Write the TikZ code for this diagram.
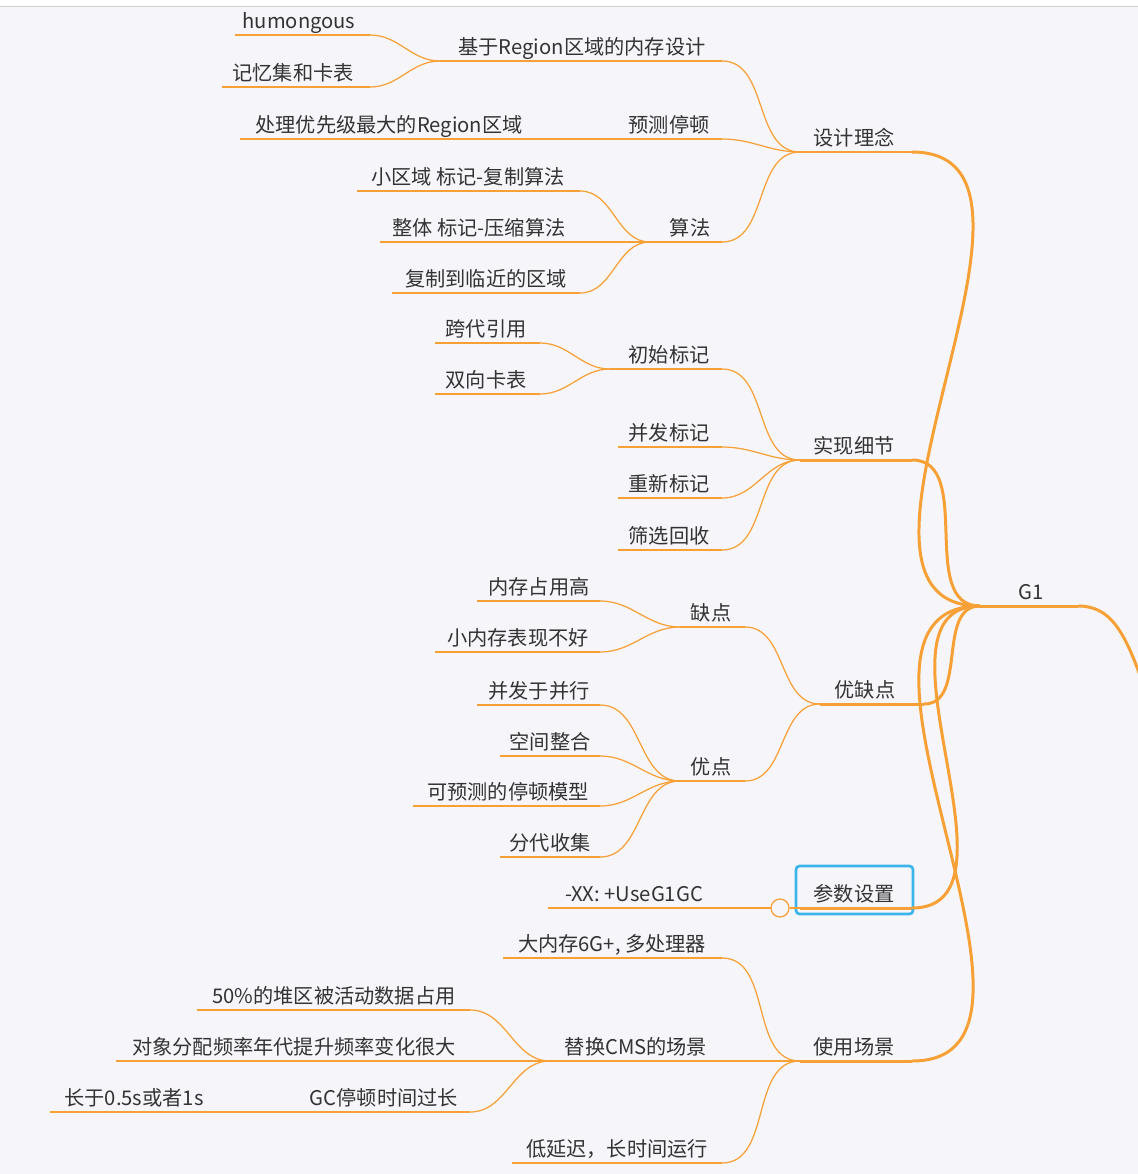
\documentclass[tikz,border=0pt]{standalone}
\usepackage{fontspec}
\setmainfont{Noto Sans CJK SC}
\definecolor{mapline}{HTML}{F7A035}
\definecolor{maptext}{HTML}{333333}
\definecolor{mapbg}{HTML}{F5F5FA}
\definecolor{selbox}{HTML}{3BB4EA}
\tikzset{
  lbl/.style={text=maptext, font=\fontsize{11.5}{14}\selectfont, inner sep=0pt, anchor=base},
  thin line/.style={mapline, line width=0.7pt},
  thick line/.style={mapline, line width=1.7pt},
}
% name, left x, right x, underline y, text x, text
\newcommand{\mmitem}[7][thin line]{%
  \coordinate (#2L) at (#3,#5);
  \coordinate (#2R) at (#4,#5);
  \node[lbl] (#2) at (#6,#5-7) {#7};
  \draw[#1] (#2L) -- (#2R);
}
\begin{document}
\begin{tikzpicture}[x=0.02cm, y=-0.02cm]
    \useasboundingbox (0,0) rectangle (1138,1174);
    \fill[mapbg] (0,6) rectangle (1138,1174);
    \draw[gray!40] (0,6) -- (1138,6);

    % root and main branches
    \mmitem[thick line]{gone}{980}{1078}{606}{1031}{G1}
    \draw[thick line] (goneR) .. controls (1110,606) and (1125,630) .. (1145,690);

    \mmitem[thick line]{design}{800}{912}{152}{854}{设计理念}
    \mmitem[thick line]{impl}{800}{912}{460}{854}{实现细节}
    \mmitem[thick line]{proscons}{820}{924}{704}{865}{优缺点}
    \mmitem[thick line]{params}{800}{912}{908}{854}{参数设置}
    \mmitem[thick line]{usage}{800}{912}{1061}{854}{使用场景}
    \draw[selbox, line width=1.5pt, rounded corners=2pt] (796,866) rectangle (913,914);
    \foreach \b in {design,impl,proscons,params,usage}
      \draw[thick line] (\b R) to[out=0, in=180] (goneL);

    % 设计理念
    \mmitem{region}{440}{722}{61}{582}{基于Region区域的内存设计}
    \mmitem{predict}{620}{722}{139}{669}{预测停顿}
    \mmitem{algo}{650}{722}{242}{690}{算法}
    \foreach \c in {region,predict,algo}
      \draw[thin line] (\c R) to[out=0, in=180] (designL);
    \mmitem{humong}{235}{370}{35}{299}{humongous}
    \mmitem{remset}{222}{370}{87}{293}{记忆集和卡表}
    \foreach \c in {humong,remset}
      \draw[thin line] (\c R) to[out=0, in=180] (regionL);
    \mmitem{priority}{240}{620}{139}{389}{处理优先级最大的Region区域}
    \mmitem{copyalg}{357}{580}{191}{468}{小区域 标记-复制算法}
    \mmitem{compact}{380}{580}{242}{479}{整体 标记-压缩算法}
    \mmitem{nearby}{392}{580}{293}{486}{复制到临近的区域}
    \foreach \c in {copyalg,compact,nearby}
      \draw[thin line] (\c R) to[out=0, in=180] (algoL);

    % 实现细节
    \mmitem{initmark}{610}{722}{369}{669}{初始标记}
    \mmitem{concmark}{618}{722}{447}{669}{并发标记}
    \mmitem{remark}{618}{722}{498}{669}{重新标记}
    \mmitem{cleanup}{618}{722}{550}{669}{筛选回收}
    \foreach \c in {initmark,concmark,remark,cleanup}
      \draw[thin line] (\c R) to[out=0, in=180] (implL);
    \mmitem{crossgen}{435}{540}{343}{486}{跨代引用}
    \mmitem{twoway}{435}{540}{394}{486}{双向卡表}
    \foreach \c in {crossgen,twoway}
      \draw[thin line] (\c R) to[out=0, in=180] (initmarkL);

    % 优缺点
    \mmitem{cons}{680}{745}{627}{711}{缺点}
    \mmitem{pros}{680}{745}{781}{711}{优点}
    \foreach \c in {cons,pros}
      \draw[thin line] (\c R) to[out=0, in=180] (prosconsL);
    \mmitem{memhigh}{477}{600}{601}{539}{内存占用高}
    \mmitem{smallmem}{435}{600}{652}{518}{小内存表现不好}
    \foreach \c in {memhigh,smallmem}
      \draw[thin line] (\c R) to[out=0, in=180] (consL);
    \mmitem{parallel}{477}{600}{705}{539}{并发于并行}
    \mmitem{spaceint}{500}{600}{756}{550}{空间整合}
    \mmitem{pausemod}{413}{600}{806}{508}{可预测的停顿模型}
    \mmitem{gencoll}{500}{600}{857}{550}{分代收集}
    \foreach \c in {parallel,spaceint,pausemod,gencoll}
      \draw[thin line] (\c R) to[out=0, in=180] (prosL);

    % 参数设置
    \mmitem{useg}{548}{771}{908}{634}{-XX: +UseG1GC}
    \node[circle, draw=mapline, line width=0.7pt, minimum size=0.36cm, inner sep=0pt] (fold) at (780,908) {};
    \draw[thin line] (fold.east) -- (paramsL);

    % 使用场景
    \mmitem{bigmem}{503}{722}{958}{612}{大内存6G+, 多处理器}
    \mmitem{replcms}{550}{722}{1061}{636}{替换CMS的场景}
    \mmitem{lowlat}{512}{722}{1163}{617}{低延迟，长时间运行}
    \foreach \c in {bigmem,replcms,lowlat}
      \draw[thin line] (\c R) to[out=0, in=180] (usageL);
    \mmitem{heap}{197}{470}{1010}{334}{50\%的堆区被活动数据占用}
    \mmitem{allocrate}{116}{470}{1061}{294}{对象分配频率年代提升频率变化很大}
    \mmitem{longgc}{300}{470}{1112}{384}{GC停顿时间过长}
    \foreach \c in {heap,allocrate,longgc}
      \draw[thin line] (\c R) to[out=0, in=180] (replcmsL);
    \mmitem{halfsec}{50}{300}{1112}{134}{长于0.5s或者1s}
\end{tikzpicture}
\end{document}
